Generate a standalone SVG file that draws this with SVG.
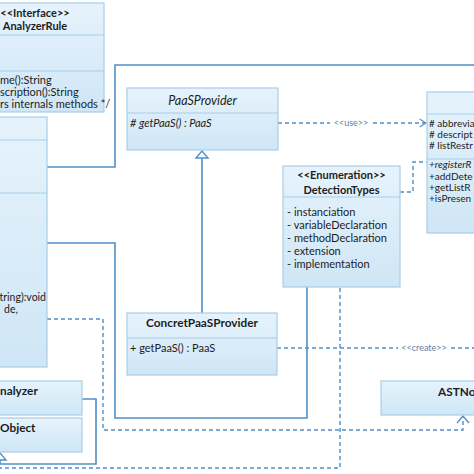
<svg xmlns="http://www.w3.org/2000/svg" width="474" height="474" viewBox="0 0 474 474">
<defs>
<linearGradient id="g" x1="0" y1="0" x2="0" y2="1">
<stop offset="0" stop-color="#e6f3fc"/>
<stop offset="1" stop-color="#cfe6f6"/>
</linearGradient>
<marker id="open" viewBox="0 0 10 12" refX="9" refY="6" markerWidth="8" markerHeight="10" orient="auto" markerUnits="userSpaceOnUse">
<path d="M1,1 L9,6 L1,11" fill="none" stroke="#4f8fc8" stroke-width="1.4"/>
</marker>
</defs>
<style>
.box{fill:url(#g);stroke:#a8cde8;stroke-width:1.2}
.div{stroke:#a8cde8;stroke-width:1.2;fill:none}
.t{font-family:Lato,"Noto Sans","DejaVu Sans",sans-serif;font-size:11px;fill:#1d1d1d}
.b{font-weight:bold}
.i{font-style:italic}
.s{font-size:10.5px}
.xs{font-size:10px}
.big{font-size:12.5px}
.mid{font-size:11.8px}
.sol{fill:none;stroke:#4f8fc8;stroke-width:1.6}
.das{fill:none;stroke:#4f8fc8;stroke-width:1.4;stroke-dasharray:4,3}
.lbl{font-family:Lato,"Noto Sans","DejaVu Sans",sans-serif;font-size:9px;fill:#5f80a8}
</style>
<rect width="474" height="474" fill="#ffffff"/>

<g id="connectors">
<polyline class="sol" points="47,167 115,167 115,65 476,65"/>
<polyline class="sol" points="47,243 115,243 115,418 307,418 307,287"/>
<line class="sol" x1="202" y1="158" x2="202" y2="313"/>
<polygon points="202,151 196,158 208,158" fill="#ffffff" stroke="#4f8fc8" stroke-width="1.4"/>
<line class="das" x1="278" y1="123" x2="330" y2="123"/>
<line class="das" x1="373" y1="123" x2="426" y2="123" marker-end="url(#open)"/>
<text class="lbl" x="351" y="126" text-anchor="middle">&lt;&lt;use&gt;&gt;</text>
<polyline class="das" points="400,192 413,192 413,162 427,162"/>
<line class="das" x1="277" y1="348" x2="398" y2="348"/>
<line class="das" x1="451" y1="348" x2="476" y2="348"/>
<text class="lbl" x="424" y="351" text-anchor="middle">&lt;&lt;create&gt;&gt;</text>
<polyline class="das" points="47,319 103,319 103,430 463,430 463,417"/>
<path d="M457,423 L463,416 L469,423" fill="none" stroke="#4f8fc8" stroke-width="1.4"/>
<polyline class="das" points="-2,468 340,468 340,287"/>
<polyline class="sol" points="82,399 96,399 96,464 0,464 0,460"/>
<polygon points="0,453 -6,460 6,460" fill="#ffffff" stroke="#4f8fc8" stroke-width="1.4"/>
</g>

<g id="AnalyzerRule">
<rect class="box" x="-34" y="3" width="138" height="109"/>
<line class="div" x1="-34" y1="35" x2="104" y2="35"/>
<line class="div" x1="-34" y1="71" x2="104" y2="71"/>
<text class="t b" x="35" y="17" text-anchor="middle">&lt;&lt;Interface&gt;&gt;</text>
<text class="t b" x="35" y="30" text-anchor="middle">AnalyzerRule</text>
<text class="t" x="0" y="84">me():String</text>
<text class="t" x="0" y="96">scription():String</text>
<text class="t" x="0" y="108">rs internals methods */</text>
</g>

<g id="LeftClass">
<rect class="box" x="-30" y="117" width="77" height="250"/>
<line class="div" x1="-30" y1="140" x2="47" y2="140"/>
<line class="div" x1="-30" y1="193" x2="47" y2="193"/>
<text class="t s" x="46" y="301" text-anchor="end">tring):void</text>
<text class="t s" x="4" y="313">de,</text>
</g>

<g id="PaaSProvider">
<rect class="box" x="127" y="88" width="151" height="62"/>
<line class="div" x1="127" y1="113" x2="278" y2="113"/>
<text class="t i big" x="202.5" y="105" text-anchor="middle">PaaSProvider</text>
<text class="t i" x="130" y="127"># getPaaS() : PaaS</text>
</g>

<g id="ConcretPaaSProvider">
<rect class="box" x="127" y="313" width="150" height="62"/>
<line class="div" x1="127" y1="338" x2="277" y2="338"/>
<text class="t b mid" x="202" y="327" text-anchor="middle">ConcretPaaSProvider</text>
<text class="t" x="130" y="352">+ getPaaS() : PaaS</text>
</g>

<g id="DetectionTypes">
<rect class="box" x="283" y="166" width="117" height="121"/>
<line class="div" x1="283" y1="197" x2="400" y2="197"/>
<text class="t b" x="341.5" y="179" text-anchor="middle">&lt;&lt;Enumeration&gt;&gt;</text>
<text class="t b" x="341.5" y="194" text-anchor="middle">DetectionTypes</text>
<text class="t" x="287" y="216">- instanciation</text>
<text class="t" x="287" y="229">- variableDeclaration</text>
<text class="t" x="287" y="242">- methodDeclaration</text>
<text class="t" x="287" y="255">- extension</text>
<text class="t" x="287" y="268">- implementation</text>
</g>

<g id="Rule">
<rect class="box" x="427" y="92" width="60" height="141"/>
<line class="div" x1="427" y1="114" x2="487" y2="114"/>
<line class="div" x1="427" y1="159" x2="487" y2="159"/>
<text class="t xs" x="429" y="127"># abbrevia</text>
<text class="t xs" x="429" y="138"># descript</text>
<text class="t xs" x="429" y="149"># listRestr</text>
<text class="t xs i" x="429" y="168">+registerR</text>
<text class="t xs" x="429" y="180">+addDete</text>
<text class="t xs" x="429" y="191">+getListR</text>
<text class="t xs" x="429" y="202">+isPresen</text>
</g>

<g id="ASTNode">
<rect class="box" x="381" y="381" width="100" height="34"/>
<text class="t b mid" x="438" y="396">ASTNo</text>
</g>

<g id="Analyzer">
<rect class="box" x="-30" y="381" width="112" height="34"/>
<text class="t b mid" x="0" y="395">nalyzer</text>
</g>

<g id="Object">
<rect class="box" x="-30" y="418" width="112" height="34"/>
<text class="t b mid" x="0" y="432">Object</text>
</g>
</svg>
